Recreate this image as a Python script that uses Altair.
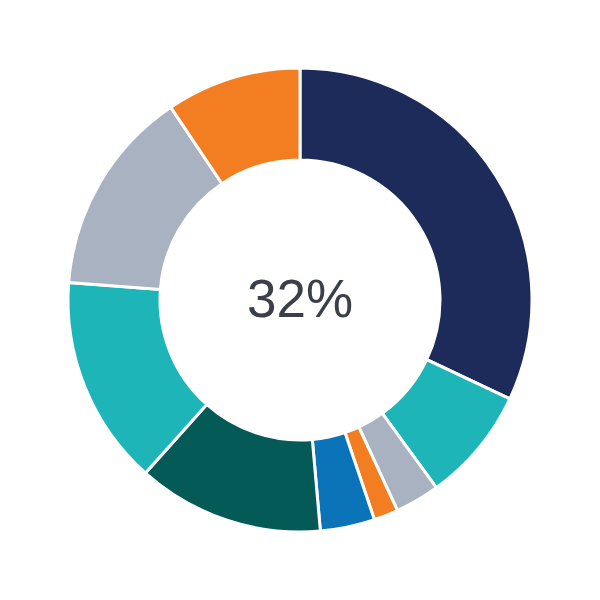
import altair as alt
import pandas as pd

segments = ["A", "B", "C", "D", "E", "F", "G", "H", "I"]
values = [32.0, 8.0, 3.1, 1.7, 3.8, 13.0, 14.6, 14.4, 9.4]
colors = ["#1C2B5A", "#1DB5B8", "#A8B2C0", "#F37E22", "#0B74B8",
          "#045A56", "#1DB5B8", "#A8B2C0", "#F37E22"]
center_label = "32%"

df = pd.DataFrame({"segment": segments, "value": values,
                   "order": list(range(len(segments)))})

arc = alt.Chart(df).mark_arc(
    innerRadius=140, outerRadius=232, stroke="white", strokeWidth=3
).encode(
    theta=alt.Theta("value:Q", stack=True),
    order=alt.Order("order:Q"),
    color=alt.Color("segment:N",
                    scale=alt.Scale(domain=segments, range=colors),
                    legend=None),
)

text = alt.Chart(pd.DataFrame({"t": [center_label]})).mark_text(
    font="Liberation Sans", fontSize=53, color="#3A3F4A",
    align="center", baseline="alphabetic"
).encode(
    text="t:N",
    x=alt.value(292),
    y=alt.value(309),
)

chart = alt.layer(arc, text).properties(
    width=584, height=584, padding=0,
    autosize=alt.AutoSizeParams(type="none")
).configure_view(stroke=None)

chart.save("out.html", embed_options={"renderer": "svg", "actions": False})
